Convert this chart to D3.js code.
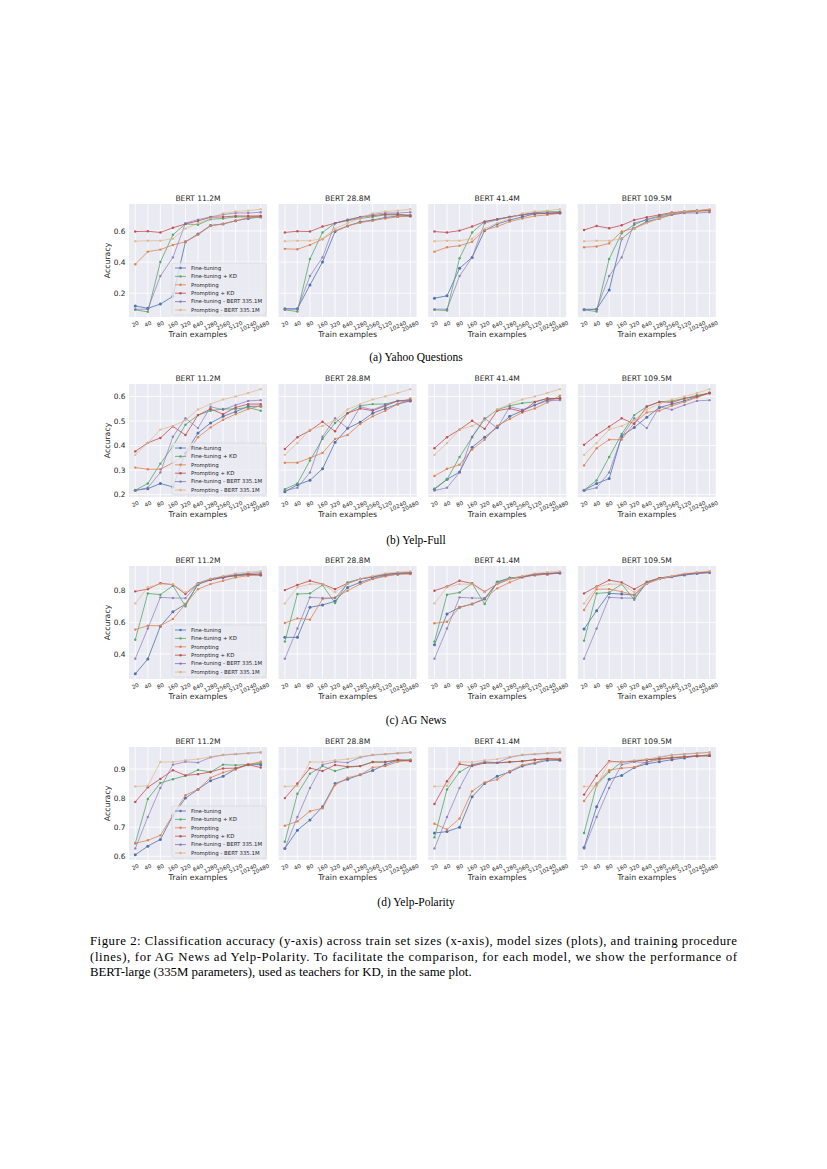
<!DOCTYPE html>
<html><head><meta charset="utf-8">
<script src="https://cdn.jsdelivr.net/npm/d3@7"></script>
<style>body{margin:0;background:#fff} svg{display:block}</style>
</head><body>
<svg id="fig" width="827" height="1169"></svg>
<script>
// ---------- data ----------
const trainSizes = ["20","40","80","160","320","640","1280","2560","5120","10240","20480"];
const modelTitles = ["BERT 11.2M","BERT 28.8M","BERT 41.4M","BERT 109.5M"];
const seriesNames = ["Fine-tuning","Fine-tuning + KD","Prompting","Prompting + KD","Fine-tuning - BERT 335.1M","Prompting - BERT 335.1M"];
const seriesColors = ["#4c72b0","#55a868","#dd8452","#c44e52","#8172b3","#dcb57f"];

// (a) Yahoo Questions — one row per model size
const yahooFT = [
 [0.118,0.103,0.13,0.18,0.53,0.58,0.635,0.645,0.665,0.68,0.69],
 [0.10,0.10,0.253,0.40,0.596,0.632,0.658,0.67,0.686,0.696,0.696],
 [0.168,0.183,0.36,0.43,0.602,0.645,0.67,0.69,0.71,0.712,0.718],
 [0.093,0.097,0.22,0.55,0.617,0.66,0.68,0.71,0.724,0.73,0.735]];
const yahooFTKD = [
 [0.093,0.08,0.40,0.575,0.645,0.64,0.675,0.68,0.69,0.69,0.696],
 [0.093,0.082,0.42,0.59,0.65,0.666,0.68,0.69,0.703,0.703,0.703],
 [0.093,0.089,0.425,0.59,0.66,0.675,0.69,0.703,0.718,0.724,0.724],
 [0.093,0.082,0.42,0.585,0.64,0.675,0.696,0.713,0.724,0.73,0.735]];
const yahooP = [
 [0.386,0.467,0.48,0.51,0.53,0.575,0.632,0.645,0.665,0.685,0.69],
 [0.485,0.482,0.51,0.547,0.602,0.632,0.653,0.666,0.68,0.69,0.696],
 [0.467,0.495,0.505,0.53,0.606,0.628,0.66,0.68,0.696,0.703,0.713],
 [0.495,0.50,0.52,0.596,0.617,0.653,0.68,0.703,0.718,0.724,0.73]];
const yahooPKD = [
 [0.596,0.598,0.59,0.62,0.645,0.664,0.688,0.69,0.696,0.696,0.696],
 [0.59,0.598,0.596,0.628,0.65,0.67,0.688,0.698,0.707,0.707,0.696],
 [0.596,0.59,0.602,0.628,0.66,0.675,0.69,0.703,0.713,0.713,0.713],
 [0.606,0.632,0.617,0.636,0.67,0.688,0.703,0.718,0.724,0.73,0.735]];
const yahooFTTeacher = [0.097,0.097,0.31,0.43,0.65,0.672,0.69,0.705,0.715,0.715,0.72];
const yahooPTeacher = [0.534,0.537,0.537,0.55,0.615,0.65,0.68,0.713,0.725,0.73,0.74];
const yahooYTicks = [0.2,0.4,0.6];

// (b) Yelp-Full
const yelpFT = [
 [0.218,0.224,0.245,0.231,0.37,0.451,0.492,0.519,0.538,0.56,0.56],
 [0.211,0.24,0.258,0.305,0.413,0.47,0.495,0.532,0.551,0.569,0.582],
 [0.222,0.262,0.292,0.393,0.434,0.474,0.519,0.542,0.565,0.587,0.592],
 [0.218,0.245,0.265,0.438,0.474,0.515,0.555,0.569,0.582,0.60,0.614]];
const yelpFTKD = [
 [0.218,0.245,0.326,0.397,0.485,0.524,0.542,0.549,0.549,0.555,0.542],
 [0.222,0.245,0.339,0.427,0.492,0.532,0.562,0.569,0.569,0.582,0.587],
 [0.224,0.262,0.353,0.434,0.508,0.546,0.562,0.573,0.578,0.592,0.592],
 [0.218,0.258,0.353,0.447,0.524,0.559,0.578,0.582,0.592,0.605,0.614]];
const yelpP = [
 [0.31,0.303,0.303,0.33,0.36,0.434,0.474,0.505,0.528,0.549,0.562],
 [0.33,0.33,0.349,0.37,0.427,0.443,0.488,0.519,0.542,0.569,0.592],
 [0.276,0.305,0.322,0.384,0.424,0.481,0.508,0.535,0.551,0.576,0.603],
 [0.319,0.389,0.424,0.424,0.492,0.535,0.542,0.562,0.578,0.596,0.614]];
const yelpPKD = [
 [0.376,0.411,0.431,0.478,0.443,0.524,0.549,0.528,0.555,0.569,0.569],
 [0.386,0.434,0.461,0.497,0.458,0.532,0.551,0.542,0.562,0.582,0.582],
 [0.389,0.434,0.465,0.501,0.468,0.542,0.551,0.538,0.578,0.592,0.592],
 [0.403,0.443,0.477,0.511,0.488,0.559,0.578,0.576,0.592,0.60,0.614]];
const yelpFTTeacher = [0.216,0.228,0.29,0.436,0.511,0.471,0.558,0.546,0.565,0.582,0.585];
const yelpPTeacher = [0.362,0.41,0.465,0.48,0.503,0.547,0.569,0.588,0.60,0.614,0.63];
const yelpYTicks = [0.2,0.3,0.4,0.5,0.6];

// (c) AG News
const agFT = [
 [0.274,0.368,0.575,0.667,0.715,0.84,0.869,0.884,0.895,0.90,0.90],
 [0.505,0.505,0.695,0.71,0.733,0.821,0.853,0.878,0.895,0.905,0.912],
 [0.459,0.653,0.695,0.716,0.747,0.853,0.88,0.888,0.899,0.905,0.912],
 [0.558,0.674,0.783,0.779,0.773,0.848,0.878,0.888,0.899,0.909,0.916]];
const agFTKD = [
 [0.49,0.783,0.775,0.832,0.701,0.848,0.874,0.891,0.895,0.905,0.905],
 [0.478,0.779,0.783,0.836,0.722,0.853,0.874,0.888,0.899,0.912,0.912],
 [0.478,0.775,0.789,0.846,0.716,0.857,0.88,0.888,0.905,0.909,0.912],
 [0.484,0.783,0.789,0.842,0.743,0.857,0.88,0.891,0.905,0.912,0.916]];
const agP = [
 [0.554,0.579,0.579,0.621,0.716,0.81,0.842,0.863,0.884,0.895,0.905],
 [0.596,0.625,0.617,0.747,0.758,0.80,0.842,0.874,0.891,0.905,0.905],
 [0.594,0.604,0.695,0.716,0.752,0.815,0.853,0.884,0.899,0.905,0.912],
 [0.678,0.81,0.81,0.794,0.773,0.848,0.874,0.891,0.905,0.912,0.92]];
const agPKD = [
 [0.796,0.81,0.848,0.838,0.779,0.846,0.869,0.884,0.899,0.905,0.899],
 [0.804,0.836,0.863,0.842,0.81,0.848,0.874,0.888,0.905,0.912,0.912],
 [0.80,0.827,0.863,0.846,0.794,0.842,0.874,0.888,0.905,0.909,0.912],
 [0.783,0.827,0.867,0.853,0.81,0.853,0.88,0.891,0.905,0.912,0.92]];
const agFTTeacher = [0.37,0.561,0.758,0.754,0.753,0.846,0.875,0.888,0.902,0.91,0.914];
const agPTeacher = [0.72,0.822,0.842,0.841,0.79,0.845,0.875,0.893,0.91,0.918,0.924];
const agYTicks = [0.4,0.6,0.8];

// (d) Yelp-Polarity
const ypFT = [
 [0.605,0.635,0.658,0.74,0.80,0.83,0.86,0.875,0.90,0.915,0.915],
 [0.627,0.69,0.725,0.77,0.85,0.865,0.88,0.895,0.915,0.93,0.93],
 [0.68,0.685,0.70,0.805,0.85,0.875,0.89,0.91,0.92,0.93,0.93],
 [0.63,0.77,0.865,0.878,0.905,0.918,0.925,0.932,0.938,0.945,0.948]];
const ypFTKD = [
 [0.645,0.797,0.852,0.865,0.877,0.897,0.89,0.915,0.913,0.916,0.92],
 [0.65,0.815,0.884,0.91,0.893,0.906,0.91,0.924,0.924,0.93,0.932],
 [0.665,0.83,0.89,0.914,0.921,0.921,0.924,0.927,0.932,0.935,0.935],
 [0.68,0.845,0.89,0.924,0.927,0.932,0.935,0.94,0.942,0.945,0.945]];
const ypP = [
 [0.645,0.655,0.672,0.742,0.81,0.83,0.87,0.888,0.90,0.915,0.925],
 [0.705,0.72,0.755,0.765,0.845,0.87,0.88,0.905,0.91,0.925,0.93],
 [0.712,0.692,0.73,0.824,0.854,0.864,0.893,0.914,0.922,0.935,0.935],
 [0.79,0.85,0.896,0.903,0.906,0.924,0.932,0.938,0.942,0.945,0.948]];
const ypPKD = [
 [0.787,0.837,0.866,0.896,0.878,0.882,0.89,0.902,0.903,0.915,0.905],
 [0.80,0.85,0.903,0.893,0.914,0.908,0.91,0.924,0.924,0.932,0.927],
 [0.78,0.858,0.917,0.91,0.921,0.921,0.924,0.927,0.932,0.935,0.932],
 [0.812,0.877,0.927,0.924,0.927,0.932,0.935,0.938,0.942,0.945,0.945]];
const ypFTTeacher = [0.627,0.735,0.835,0.915,0.925,0.922,0.94,0.948,0.951,0.954,0.957];
const ypPTeacher = [0.84,0.842,0.924,0.924,0.93,0.934,0.942,0.949,0.952,0.955,0.958];
const ypYTicks = [0.6,0.7,0.8,0.9];

const subCaptions = ["(a) Yahoo Questions","(b) Yelp-Full","(c) AG News","(d) Yelp-Polarity"];
const captionLines = [
 "Figure 2: Classification accuracy (y-axis) across train set sizes (x-axis), model sizes (plots), and training procedure",
 "(lines), for AG News ad Yelp-Polarity. To facilitate the comparison, for each model, we show the performance of",
 "BERT-large (335M parameters), used as teachers for KD, in the same plot."];

const rows = [
 {ft:yahooFT, ftkd:yahooFTKD, p:yahooP, pkd:yahooPKD, ftT:yahooFTTeacher, pT:yahooPTeacher, ticks:yahooYTicks},
 {ft:yelpFT, ftkd:yelpFTKD, p:yelpP, pkd:yelpPKD, ftT:yelpFTTeacher, pT:yelpPTeacher, ticks:yelpYTicks},
 {ft:agFT, ftkd:agFTKD, p:agP, pkd:agPKD, ftT:agFTTeacher, pT:agPTeacher, ticks:agYTicks},
 {ft:ypFT, ftkd:ypFTKD, p:ypP, pkd:ypPKD, ftT:ypFTTeacher, pT:ypPTeacher, ticks:ypYTicks}];

// ---------- layout ----------
const svg = d3.select("#fig");
const sans = "DejaVu Sans, sans-serif";
const serif = "Liberation Serif, Times New Roman, serif";
const panelLeft0 = 129, panelPitch = 149.6, panelW = 138, panelH = 113;
const rowTops = [204, 384, 566, 747];
const subCapY = [361, 544, 724, 906];
const tickColor = "#262626";

rows.forEach((row, ri) => {
  const top = rowTops[ri];
  const allVals = [].concat(...row.ft, ...row.ftkd, ...row.p, ...row.pkd, row.ftT, row.pT);
  const [mn, mx] = d3.extent(allVals);
  const pad = (mx - mn) * 0.05;
  const y = d3.scaleLinear().domain([mn - pad, mx + pad]).range([top + panelH, top]);

  for (let pi = 0; pi < 4; pi++) {
    const left = panelLeft0 + pi * panelPitch;
    const x = d3.scalePoint().domain(trainSizes).range([left, left + panelW]).padding(0.5);
    const g = svg.append("g");
    g.append("rect").attr("x", left).attr("y", top).attr("width", panelW).attr("height", panelH).attr("fill", "#eaeaf2");
    g.selectAll(".gx").data(trainSizes).join("line")
      .attr("x1", d => x(d)).attr("x2", d => x(d)).attr("y1", top).attr("y2", top + panelH)
      .attr("stroke", "#fff").attr("stroke-width", 0.8);
    g.selectAll(".gy").data(row.ticks).join("line")
      .attr("x1", left).attr("x2", left + panelW).attr("y1", d => y(d)).attr("y2", d => y(d))
      .attr("stroke", "#fff").attr("stroke-width", 0.8);
    g.append("text").attr("x", left + panelW / 2).attr("y", top - 3.5).attr("text-anchor", "middle")
      .attr("font-family", sans).attr("font-size", 7.6).attr("fill", tickColor).text(modelTitles[pi]);
    trainSizes.forEach(lbl => {
      const t = g.append("text").attr("font-family", sans).attr("font-size", 5.6).attr("fill", tickColor)
        .attr("text-anchor", "middle").text(lbl);
      const w = t.node().getComputedTextLength();
      const ang = 25 * Math.PI / 180;
      const bh = w * Math.sin(ang) + 5.6 * Math.cos(ang);
      const cy = top + panelH + 3 + bh / 2;
      t.attr("transform", `translate(${x(lbl)},${cy}) rotate(-25)`).attr("dy", "0.35em");
    });
    g.append("text").attr("x", left + panelW / 2).attr("y", top + panelH + 20).attr("text-anchor", "middle")
      .attr("font-family", sans).attr("font-size", 7.8).attr("fill", tickColor).text("Train examples");
    if (pi === 0) {
      g.selectAll(".yt").data(row.ticks).join("text")
        .attr("x", left - 3.5).attr("y", d => y(d)).attr("dy", "0.35em").attr("text-anchor", "end")
        .attr("font-family", sans).attr("font-size", 7.4).attr("fill", tickColor).text(d => d3.format(".1f")(d));
      g.append("text").attr("transform", `translate(${left - 19},${top + panelH / 2}) rotate(-90)`)
        .attr("text-anchor", "middle").attr("font-family", sans).attr("font-size", 7.8).attr("fill", tickColor).text("Accuracy");
    }
    const series = [row.ft[pi], row.ftkd[pi], row.p[pi], row.pkd[pi], row.ftT, row.pT];
    const line = d3.line().x((d, i) => x(trainSizes[i])).y(d => y(d));
    series.forEach((vals, si) => {
      const op = si >= 4 ? 0.8 : 1;
      g.append("path").attr("d", line(vals)).attr("fill", "none").attr("stroke", seriesColors[si])
        .attr("stroke-width", 0.8).attr("opacity", op);
      g.selectAll(null).data(vals).join("circle")
        .attr("cx", (d, i) => x(trainSizes[i])).attr("cy", d => y(d)).attr("r", si === 0 ? 1.5 : 1.2)
        .attr("fill", seriesColors[si]).attr("opacity", op);
    });
    if (pi === 0) {
      const lx = left + 43, lw = 94, lh = 52, ly = top + panelH - 2 - lh;
      const lg = g.append("g");
      lg.append("rect").attr("x", lx).attr("y", ly).attr("width", lw).attr("height", lh).attr("rx", 1.5)
        .attr("fill", "#eaeaf2").attr("fill-opacity", 0.8).attr("stroke", "#cccccc").attr("stroke-width", 0.5);
      seriesNames.forEach((nm, si) => {
        const yy = ly + 5 + si * 8.4;
        lg.append("line").attr("x1", lx + 3).attr("x2", lx + 14).attr("y1", yy).attr("y2", yy)
          .attr("stroke", seriesColors[si]).attr("stroke-width", 0.8);
        lg.append("circle").attr("cx", lx + 8.5).attr("cy", yy).attr("r", 1.2).attr("fill", seriesColors[si]);
        lg.append("text").attr("x", lx + 19).attr("y", yy).attr("dy", "0.35em").attr("font-family", sans)
          .attr("font-size", 5.4).attr("fill", tickColor).text(nm);
      });
    }
  }
  svg.append("text").attr("x", 416).attr("y", subCapY[ri]).attr("text-anchor", "middle")
    .attr("font-family", serif).attr("font-size", 11.5).attr("fill", "#000").text(subCaptions[ri]);
});

captionLines.forEach((ln, i) => {
  const t = svg.append("text").attr("x", 90).attr("y", 945 + i * 15.5)
    .attr("font-family", serif).attr("font-size", 12.8).attr("fill", "#000").text(ln);
  if (i < 2) t.attr("textLength", 647).attr("lengthAdjust", "spacing");
});
</script>
</body></html>
